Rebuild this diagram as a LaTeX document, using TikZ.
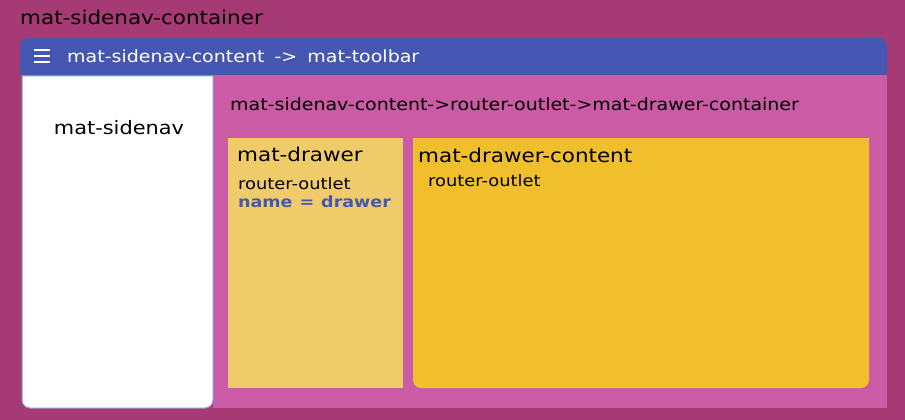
\documentclass[tikz,border=0pt]{standalone}
\usepackage{fontspec}
\setmainfont[FakeStretch=1.13]{DejaVu Sans}
\begin{document}
\begin{tikzpicture}[x=1pt,y=-1pt,
  lbl/.style={anchor=west,inner sep=0pt,text=black}]
\definecolor{bgc}{HTML}{A63A74}
\definecolor{pinkc}{HTML}{CA5BA4}
\definecolor{toolc}{HTML}{4557B3}
\definecolor{drawc}{HTML}{F0CB6A}
\definecolor{contc}{HTML}{F1BE2C}
\definecolor{edgec}{HTML}{8A9AD8}
\fill[bgc] (0,0) rectangle (905,420);
\useasboundingbox (0,0) rectangle (905,420);
% toolbar
\fill[toolc,rounded corners=8pt] (20,75) -- (20,38) -- (887,38) -- (887,75) [sharp corners]-- cycle;
\fill[toolc] (20,60) rectangle (887,75);
% content area
\fill[pinkc] (213,75) rectangle (887,408);
% sidenav
\draw[edgec,fill=white,line width=1pt] (213,76) -- (22,76) [rounded corners=8pt]-- (22,408) -- (213,408) [sharp corners] -- cycle;
% drawer
\fill[drawc] (228,138) rectangle (403,388);
% drawer content
\fill[contc,rounded corners=8pt] (413,388) [sharp corners]-- (413,138) -- (869,138) [rounded corners=8pt]-- (869,388) -- cycle;
% hamburger
\foreach \yy in {50,56,62} \fill[white] (34,\yy-1) rectangle (50,\yy+1);
% texts
\node[lbl,font=\fontsize{19}{21}\selectfont] (t1) at (20,17) {mat-sidenav-container};
\node[lbl,text=white,font=\fontsize{16.8}{18}\selectfont] (t2) at (67,56) {mat-sidenav-content\hspace{0.6em}->\hspace{0.6em}mat-toolbar};
\node[inner sep=0pt,font=\fontsize{18.5}{20}\selectfont] (t3) at (119,128) {mat-sidenav};
\node[lbl,font=\fontsize{16.8}{18}\selectfont] (t4) at (230,104) {mat-sidenav-content->router-outlet->mat-drawer-container};
\node[lbl,font=\fontsize{19}{21}\selectfont] (t5) at (237,154) {mat-drawer};
\node[lbl,font=\fontsize{15.8}{17}\selectfont] (t6) at (238,184) {router-outlet};
\node[lbl,text=toolc,font=\fontsize{15.5}{17}\selectfont\bfseries] (t7) at (238,202) {name\hspace{0.45em}=\hspace{0.45em}drawer};
\node[lbl,font=\fontsize{19}{21}\selectfont] (t8) at (418,155) {mat-drawer-content};
\node[lbl,font=\fontsize{15.8}{17}\selectfont] (t9) at (428,181) {router-outlet};
\end{tikzpicture}
\end{document}
